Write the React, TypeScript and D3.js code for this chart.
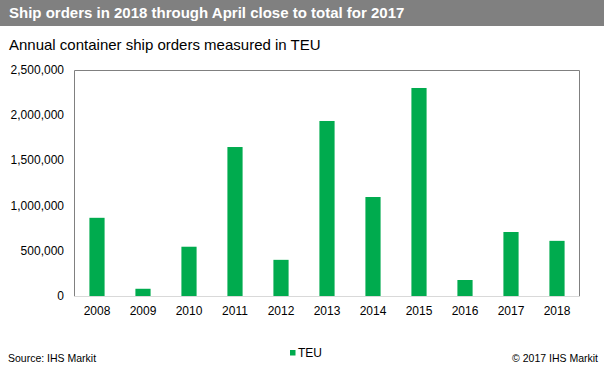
import React from "react";
import * as d3 from "d3";

const categories = ["2008","2009","2010","2011","2012","2013","2014","2015","2016","2017","2018"];
const teu = [865000, 80000, 545000, 1648000, 400000, 1936000, 1095000, 2301000, 177000, 708000, 610000];
const yTicks = [0, 500000, 1000000, 1500000, 2000000, 2500000];

const W = 604, H = 370;
const left = 74, right = 580, top = 70, bottom = 296;

export default function App() {
  const x = d3.scaleBand<string>().domain(categories).range([left, right]).paddingInner(0.67).paddingOuter(0.335);
  const y = d3.scaleLinear().domain([0, 2500000]).range([bottom, top]);
  const fmt = d3.format(",");
  const font = "Arial, 'Liberation Sans', sans-serif";
  return (
    <svg width={W} height={H} style={{ position: "absolute", left: 0, top: 0 }} fontFamily={font}>
      <rect x={0} y={0} width={W} height={H} fill="#fff" />
      <rect x={0} y={0} width={W} height={26} fill="#808080" />
      <text x={9} y={18} fill="#fff" fontSize={15} fontWeight="bold">Ship orders in 2018 through April close to total for 2017</text>
      <text x={9} y={50} fill="#000" fontSize={15}>Annual container ship orders measured in TEU</text>
      <path d={`M${left + 0.5},${bottom} V${top + 0.5} H${right - 0.5} V${bottom}`} fill="none" stroke="#808080" strokeWidth={1} />
      {categories.map((c, i) => (
        <rect key={c} x={x(c)} y={y(teu[i])} width={x.bandwidth()} height={bottom - y(teu[i])} fill="#00AB4E" />
      ))}
      <line x1={left} x2={right} y1={bottom + 0.5} y2={bottom + 0.5} stroke="#D9D9D9" strokeWidth={1} />
      {yTicks.map(t => (
        <text key={t} x={64} y={y(t) + 4} textAnchor="end" fontSize={12} fill="#000">{fmt(t)}</text>
      ))}
      {categories.map(c => (
        <text key={c} x={(x(c) as number) + x.bandwidth() / 2} y={315} textAnchor="middle" fontSize={12} fill="#000">{c}</text>
      ))}
      <rect x={290} y={350} width={5.5} height={5.5} fill="#00AB4E" />
      <text x={298} y={357} fontSize={12} fill="#000">TEU</text>
      <text x={8} y={362} fontSize={10.5} fill="#000">Source: IHS Markit</text>
      <text x={598} y={362} textAnchor="end" fontSize={10.5} fill="#000">© 2017 IHS Markit</text>
    </svg>
  );
}
